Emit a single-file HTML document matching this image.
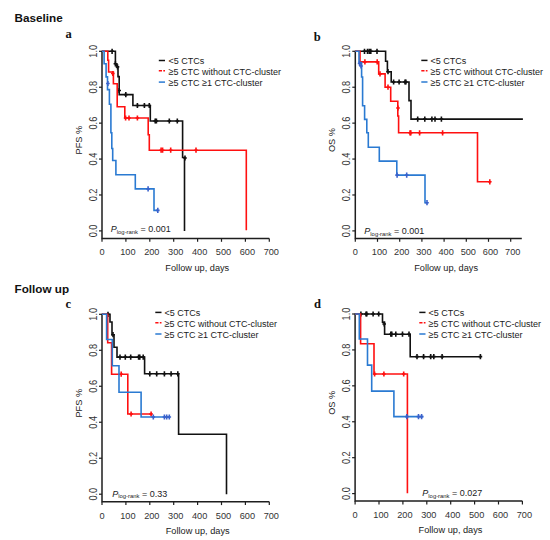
<!DOCTYPE html><html><head><meta charset="utf-8"><style>html,body{margin:0;padding:0;background:#fff;width:550px;height:540px;overflow:hidden}svg{display:block}text{font-family:"Liberation Sans",sans-serif}text.r{stroke:#222;stroke-width:0;paint-order:stroke}</style></head><body>
<svg width="550" height="540" viewBox="0 0 550 540">
<rect width="550" height="540" fill="#fff"/>
<text x="14.6" y="21.5" font-size="11.7" font-weight="bold" fill="#111">Baseline</text>
<text x="14.6" y="292.6" font-size="11.7" font-weight="bold" fill="#111">Follow up</text>
<text x="65.5" y="37.9" font-size="12.5" font-weight="bold" fill="#111" style="font-family:'Liberation Serif',serif">a</text>
<text x="313.8" y="40.7" font-size="12.5" font-weight="bold" fill="#111" style="font-family:'Liberation Serif',serif">b</text>
<text x="65.6" y="308.0" font-size="12.5" font-weight="bold" fill="#111" style="font-family:'Liberation Serif',serif">c</text>
<text x="314.0" y="307.9" font-size="12.5" font-weight="bold" fill="#111" style="font-family:'Liberation Serif',serif">d</text>
<path d="M102,50.7 V238.4 H269.3" fill="none" stroke="#1e1e1e" stroke-width="1.5"/>
<line x1="99" y1="230.9" x2="102" y2="230.9" stroke="#1e1e1e" stroke-width="1.2"/>
<text transform="translate(97.1,230.9) rotate(-90) scale(1,1.15)" text-anchor="middle" font-size="9.2" fill="#333" class="r">0.0</text>
<line x1="99" y1="194.98" x2="102" y2="194.98" stroke="#1e1e1e" stroke-width="1.2"/>
<text transform="translate(97.1,194.98) rotate(-90) scale(1,1.15)" text-anchor="middle" font-size="9.2" fill="#333" class="r">0.2</text>
<line x1="99" y1="159.06" x2="102" y2="159.06" stroke="#1e1e1e" stroke-width="1.2"/>
<text transform="translate(97.1,159.06) rotate(-90) scale(1,1.15)" text-anchor="middle" font-size="9.2" fill="#333" class="r">0.4</text>
<line x1="99" y1="123.14" x2="102" y2="123.14" stroke="#1e1e1e" stroke-width="1.2"/>
<text transform="translate(97.1,123.14) rotate(-90) scale(1,1.15)" text-anchor="middle" font-size="9.2" fill="#333" class="r">0.6</text>
<line x1="99" y1="87.22" x2="102" y2="87.22" stroke="#1e1e1e" stroke-width="1.2"/>
<text transform="translate(97.1,87.22) rotate(-90) scale(1,1.15)" text-anchor="middle" font-size="9.2" fill="#333" class="r">0.8</text>
<line x1="99" y1="51.3" x2="102" y2="51.3" stroke="#1e1e1e" stroke-width="1.2"/>
<text transform="translate(97.1,51.3) rotate(-90) scale(1,1.15)" text-anchor="middle" font-size="9.2" fill="#333" class="r">1.0</text>
<line x1="102" y1="238.4" x2="102" y2="241.8" stroke="#1e1e1e" stroke-width="1.2"/>
<text x="102" y="255.2" text-anchor="middle" font-size="9.2" fill="#333" transform-origin="102 255.2" transform="scale(1,1.0)" class="r">0</text>
<line x1="125.9" y1="238.4" x2="125.9" y2="241.8" stroke="#1e1e1e" stroke-width="1.2"/>
<text x="127.9" y="255.2" text-anchor="middle" font-size="9.2" fill="#333" transform-origin="127.9 255.2" transform="scale(1,1.0)" class="r">100</text>
<line x1="149.8" y1="238.4" x2="149.8" y2="241.8" stroke="#1e1e1e" stroke-width="1.2"/>
<text x="151.8" y="255.2" text-anchor="middle" font-size="9.2" fill="#333" transform-origin="151.8 255.2" transform="scale(1,1.0)" class="r">200</text>
<line x1="173.7" y1="238.4" x2="173.7" y2="241.8" stroke="#1e1e1e" stroke-width="1.2"/>
<text x="175.7" y="255.2" text-anchor="middle" font-size="9.2" fill="#333" transform-origin="175.7 255.2" transform="scale(1,1.0)" class="r">300</text>
<line x1="197.6" y1="238.4" x2="197.6" y2="241.8" stroke="#1e1e1e" stroke-width="1.2"/>
<text x="199.6" y="255.2" text-anchor="middle" font-size="9.2" fill="#333" transform-origin="199.6 255.2" transform="scale(1,1.0)" class="r">400</text>
<line x1="221.5" y1="238.4" x2="221.5" y2="241.8" stroke="#1e1e1e" stroke-width="1.2"/>
<text x="223.5" y="255.2" text-anchor="middle" font-size="9.2" fill="#333" transform-origin="223.5 255.2" transform="scale(1,1.0)" class="r">500</text>
<line x1="245.4" y1="238.4" x2="245.4" y2="241.8" stroke="#1e1e1e" stroke-width="1.2"/>
<text x="247.4" y="255.2" text-anchor="middle" font-size="9.2" fill="#333" transform-origin="247.4 255.2" transform="scale(1,1.0)" class="r">600</text>
<line x1="269.3" y1="238.4" x2="269.3" y2="241.8" stroke="#1e1e1e" stroke-width="1.2"/>
<text x="271.3" y="255.2" text-anchor="middle" font-size="9.2" fill="#333" transform-origin="271.3 255.2" transform="scale(1,1.0)" class="r">700</text>
<text x="197.3" y="270.6" transform-origin="197.3 270.6" transform="scale(1,1.05)" text-anchor="middle" font-size="9.2" fill="#1a1a1a" class="r">Follow up, days</text>
<text transform="translate(81.8,140.1) rotate(-90) scale(1,0.95)" text-anchor="middle" font-size="9.2" fill="#222" class="r">PFS %</text>
<path d="M102,51.3 H115.4 V63.8 H116.8 V66.9 H118 V76.6 H119.2 V94.6 H132.9 V105.5 H150.3 V121 H182.6 V157.5 H184.5 V231" fill="none" stroke="#111111" stroke-width="1.6"/>
<path d="M112.1,48.7 V53.9 M110.3,51.3 H113.9" stroke="#111111" stroke-width="1.6" fill="none"/>
<path d="M115.4,61.2 V66.4 M113.6,63.8 H117.2" stroke="#111111" stroke-width="1.6" fill="none"/>
<path d="M117.5,64.3 V69.5 M115.7,66.9 H119.3" stroke="#111111" stroke-width="1.6" fill="none"/>
<path d="M119.2,87.9 V93.1 M117.4,90.5 H121" stroke="#111111" stroke-width="1.6" fill="none"/>
<path d="M125.8,92 V97.2 M124,94.6 H127.6" stroke="#111111" stroke-width="1.6" fill="none"/>
<path d="M137.4,102.9 V108.1 M135.6,105.5 H139.2" stroke="#111111" stroke-width="1.6" fill="none"/>
<path d="M144.4,102.9 V108.1 M142.6,105.5 H146.2" stroke="#111111" stroke-width="1.6" fill="none"/>
<path d="M149.3,102.9 V108.1 M147.5,105.5 H151.1" stroke="#111111" stroke-width="1.6" fill="none"/>
<path d="M155.2,118.4 V123.6 M153.4,121 H157" stroke="#111111" stroke-width="1.6" fill="none"/>
<path d="M156.4,118.4 V123.6 M154.6,121 H158.2" stroke="#111111" stroke-width="1.6" fill="none"/>
<path d="M169.3,118.4 V123.6 M167.5,121 H171.1" stroke="#111111" stroke-width="1.6" fill="none"/>
<path d="M177.3,118.4 V123.6 M175.5,121 H179.1" stroke="#111111" stroke-width="1.6" fill="none"/>
<path d="M185,155.4 V160.6 M183.2,158 H186.8" stroke="#111111" stroke-width="1.6" fill="none"/>
<path d="M102,51.3 H107.8 V60.3 H108.6 V72 H113.4 V83.8 H117.2 V106.7 H124.8 V118 H148.2 V134.8 H149.3 V150.2 H246.3 V230.2" fill="none" stroke="#ff1010" stroke-width="1.6"/>
<path d="M112.8,70.9 V76.1 M111,73.5 H114.6" stroke="#ff1010" stroke-width="1.6" fill="none"/>
<path d="M125.6,115.4 V120.6 M123.8,118 H127.4" stroke="#ff1010" stroke-width="1.6" fill="none"/>
<path d="M129,115.4 V120.6 M127.2,118 H130.8" stroke="#ff1010" stroke-width="1.6" fill="none"/>
<path d="M137.4,115.4 V120.6 M135.6,118 H139.2" stroke="#ff1010" stroke-width="1.6" fill="none"/>
<path d="M161.1,147.6 V152.8 M159.3,150.2 H162.9" stroke="#ff1010" stroke-width="1.6" fill="none"/>
<path d="M162.6,147.6 V152.8 M160.8,150.2 H164.4" stroke="#ff1010" stroke-width="1.6" fill="none"/>
<path d="M170.7,147.6 V152.8 M168.9,150.2 H172.5" stroke="#ff1010" stroke-width="1.6" fill="none"/>
<path d="M196,147.6 V152.8 M194.2,150.2 H197.8" stroke="#ff1010" stroke-width="1.6" fill="none"/>
<path d="M102,51.3 H104.1 V63.8 H106.1 V76.9 H107.5 V89.6 H109.4 V104.2 H110.9 V132.8 H111.8 V148.5 H112.7 V160.5 H115.9 V174.8 H135.3 V188.9 H154 V210.4 H158" fill="none" stroke="#2a7ad2" stroke-width="1.6"/>
<path d="M107.9,80.9 V86.1 M106.1,83.5 H109.7" stroke="#3a62cc" stroke-width="1.6" fill="none"/>
<path d="M148.1,186.3 V191.5 M146.3,188.9 H149.9" stroke="#3a62cc" stroke-width="1.6" fill="none"/>
<path d="M157.8,207.8 V213 M156,210.4 H159.6" stroke="#3a62cc" stroke-width="1.6" fill="none"/>
<line x1="158.8" y1="60.5" x2="165" y2="60.5" stroke="#111111" stroke-width="1.5"/>
<text x="168.5" y="64" transform-origin="168.5 64" transform="scale(1,1.1)" font-size="9.02" fill="#1a1a1a" class="r">&lt;5 CTCs</text>
<line x1="158.8" y1="70.85" x2="165" y2="70.85" stroke="#ff1010" stroke-width="1.5" stroke-dasharray="3.2 1.3 1.7 20"/>
<text x="168.5" y="75.25" transform-origin="168.5 75.25" transform="scale(1,1.1)" font-size="9.02" fill="#1a1a1a" class="r">≥5 CTC without CTC-cluster</text>
<line x1="158.8" y1="82.1" x2="165" y2="82.1" stroke="#2a7ad2" stroke-width="1.5"/>
<text x="168.5" y="86.5" transform-origin="168.5 86.5" transform="scale(1,1.1)" font-size="9.02" fill="#1a1a1a" class="r">≥5 CTC ≥1 CTC-cluster</text>
<text x="110.8" y="232" transform-origin="110.8 232" transform="scale(1,1.05)" font-size="9.0" fill="#1a1a1a" class="r"><tspan font-style="italic">P</tspan><tspan font-size="5.9" dy="1.6">log-rank</tspan><tspan dy="-1.6"> = 0.001</tspan></text>
<path d="M355.3,50.7 V238.4 H521.8" fill="none" stroke="#1e1e1e" stroke-width="1.5"/>
<line x1="352.3" y1="230.9" x2="355.3" y2="230.9" stroke="#1e1e1e" stroke-width="1.2"/>
<text transform="translate(350.4,230.9) rotate(-90) scale(1,1.15)" text-anchor="middle" font-size="9.2" fill="#333" class="r">0.0</text>
<line x1="352.3" y1="194.98" x2="355.3" y2="194.98" stroke="#1e1e1e" stroke-width="1.2"/>
<text transform="translate(350.4,194.98) rotate(-90) scale(1,1.15)" text-anchor="middle" font-size="9.2" fill="#333" class="r">0.2</text>
<line x1="352.3" y1="159.06" x2="355.3" y2="159.06" stroke="#1e1e1e" stroke-width="1.2"/>
<text transform="translate(350.4,159.06) rotate(-90) scale(1,1.15)" text-anchor="middle" font-size="9.2" fill="#333" class="r">0.4</text>
<line x1="352.3" y1="123.14" x2="355.3" y2="123.14" stroke="#1e1e1e" stroke-width="1.2"/>
<text transform="translate(350.4,123.14) rotate(-90) scale(1,1.15)" text-anchor="middle" font-size="9.2" fill="#333" class="r">0.6</text>
<line x1="352.3" y1="87.22" x2="355.3" y2="87.22" stroke="#1e1e1e" stroke-width="1.2"/>
<text transform="translate(350.4,87.22) rotate(-90) scale(1,1.15)" text-anchor="middle" font-size="9.2" fill="#333" class="r">0.8</text>
<line x1="352.3" y1="51.3" x2="355.3" y2="51.3" stroke="#1e1e1e" stroke-width="1.2"/>
<text transform="translate(350.4,51.3) rotate(-90) scale(1,1.15)" text-anchor="middle" font-size="9.2" fill="#333" class="r">1.0</text>
<line x1="355.3" y1="238.4" x2="355.3" y2="241.8" stroke="#1e1e1e" stroke-width="1.2"/>
<text x="355.3" y="255.2" text-anchor="middle" font-size="9.2" fill="#333" transform-origin="355.3 255.2" transform="scale(1,1.0)" class="r">0</text>
<line x1="377.5" y1="238.4" x2="377.5" y2="241.8" stroke="#1e1e1e" stroke-width="1.2"/>
<text x="379.5" y="255.2" text-anchor="middle" font-size="9.2" fill="#333" transform-origin="379.5 255.2" transform="scale(1,1.0)" class="r">100</text>
<line x1="399.7" y1="238.4" x2="399.7" y2="241.8" stroke="#1e1e1e" stroke-width="1.2"/>
<text x="401.7" y="255.2" text-anchor="middle" font-size="9.2" fill="#333" transform-origin="401.7 255.2" transform="scale(1,1.0)" class="r">200</text>
<line x1="421.9" y1="238.4" x2="421.9" y2="241.8" stroke="#1e1e1e" stroke-width="1.2"/>
<text x="423.9" y="255.2" text-anchor="middle" font-size="9.2" fill="#333" transform-origin="423.9 255.2" transform="scale(1,1.0)" class="r">300</text>
<line x1="444.1" y1="238.4" x2="444.1" y2="241.8" stroke="#1e1e1e" stroke-width="1.2"/>
<text x="446.1" y="255.2" text-anchor="middle" font-size="9.2" fill="#333" transform-origin="446.1 255.2" transform="scale(1,1.0)" class="r">400</text>
<line x1="466.3" y1="238.4" x2="466.3" y2="241.8" stroke="#1e1e1e" stroke-width="1.2"/>
<text x="468.3" y="255.2" text-anchor="middle" font-size="9.2" fill="#333" transform-origin="468.3 255.2" transform="scale(1,1.0)" class="r">500</text>
<line x1="488.5" y1="238.4" x2="488.5" y2="241.8" stroke="#1e1e1e" stroke-width="1.2"/>
<text x="490.5" y="255.2" text-anchor="middle" font-size="9.2" fill="#333" transform-origin="490.5 255.2" transform="scale(1,1.0)" class="r">600</text>
<line x1="510.7" y1="238.4" x2="510.7" y2="241.8" stroke="#1e1e1e" stroke-width="1.2"/>
<text x="512.7" y="255.2" text-anchor="middle" font-size="9.2" fill="#333" transform-origin="512.7 255.2" transform="scale(1,1.0)" class="r">700</text>
<text x="446.1" y="270.6" transform-origin="446.1 270.6" transform="scale(1,1.05)" text-anchor="middle" font-size="9.2" fill="#1a1a1a" class="r">Follow up, days</text>
<text transform="translate(335.1,140.1) rotate(-90) scale(1,0.95)" text-anchor="middle" font-size="9.2" fill="#222" class="r">OS %</text>
<path d="M355.3,51.3 H385.6 V61.3 H387.4 V71.7 H391.2 V82 H409 V100.6 H411 V119.1 H522.9" fill="none" stroke="#111111" stroke-width="1.6"/>
<path d="M364.5,48.7 V53.9 M362.7,51.3 H366.3" stroke="#111111" stroke-width="1.6" fill="none"/>
<path d="M367.5,48.7 V53.9 M365.7,51.3 H369.3" stroke="#111111" stroke-width="1.6" fill="none"/>
<path d="M369.2,48.7 V53.9 M367.4,51.3 H371" stroke="#111111" stroke-width="1.6" fill="none"/>
<path d="M370.8,48.7 V53.9 M369,51.3 H372.6" stroke="#111111" stroke-width="1.6" fill="none"/>
<path d="M377,48.7 V53.9 M375.2,51.3 H378.8" stroke="#111111" stroke-width="1.6" fill="none"/>
<path d="M388,69.1 V74.3 M386.2,71.7 H389.8" stroke="#111111" stroke-width="1.6" fill="none"/>
<path d="M393.6,79.4 V84.6 M391.8,82 H395.4" stroke="#111111" stroke-width="1.6" fill="none"/>
<path d="M399.1,79.4 V84.6 M397.3,82 H400.9" stroke="#111111" stroke-width="1.6" fill="none"/>
<path d="M405,79.4 V84.6 M403.2,82 H406.8" stroke="#111111" stroke-width="1.6" fill="none"/>
<path d="M405.9,79.4 V84.6 M404.1,82 H407.7" stroke="#111111" stroke-width="1.6" fill="none"/>
<path d="M417.7,116.5 V121.7 M415.9,119.1 H419.5" stroke="#111111" stroke-width="1.6" fill="none"/>
<path d="M424.8,116.5 V121.7 M423,119.1 H426.6" stroke="#111111" stroke-width="1.6" fill="none"/>
<path d="M431.9,116.5 V121.7 M430.1,119.1 H433.7" stroke="#111111" stroke-width="1.6" fill="none"/>
<path d="M435,116.5 V121.7 M433.2,119.1 H436.8" stroke="#111111" stroke-width="1.6" fill="none"/>
<path d="M441.4,116.5 V121.7 M439.6,119.1 H443.2" stroke="#111111" stroke-width="1.6" fill="none"/>
<path d="M355.3,51.3 H360 V61.9 H378.7 V73.9 H385.1 V87.2 H390.7 V101.3 H397.8 V116 H398.6 V132.8 H477.5 V181.8 H491" fill="none" stroke="#ff1010" stroke-width="1.6"/>
<path d="M364.9,59.3 V64.5 M363.1,61.9 H366.7" stroke="#ff1010" stroke-width="1.6" fill="none"/>
<path d="M377.2,59.3 V64.5 M375.4,61.9 H379" stroke="#ff1010" stroke-width="1.6" fill="none"/>
<path d="M380,71.3 V76.5 M378.2,73.9 H381.8" stroke="#ff1010" stroke-width="1.6" fill="none"/>
<path d="M388,84.6 V89.8 M386.2,87.2 H389.8" stroke="#ff1010" stroke-width="1.6" fill="none"/>
<path d="M398,105.4 V110.6 M396.2,108 H399.8" stroke="#ff1010" stroke-width="1.6" fill="none"/>
<path d="M410,130.2 V135.4 M408.2,132.8 H411.8" stroke="#ff1010" stroke-width="1.6" fill="none"/>
<path d="M410.8,130.2 V135.4 M409,132.8 H412.6" stroke="#ff1010" stroke-width="1.6" fill="none"/>
<path d="M419.6,130.2 V135.4 M417.8,132.8 H421.4" stroke="#ff1010" stroke-width="1.6" fill="none"/>
<path d="M442.6,130.2 V135.4 M440.8,132.8 H444.4" stroke="#ff1010" stroke-width="1.6" fill="none"/>
<path d="M489.8,179.2 V184.4 M488,181.8 H491.6" stroke="#ff1010" stroke-width="1.6" fill="none"/>
<path d="M355.3,51.3 H359 V62.5 H361.6 V77 H362.6 V105.8 H364.6 V119.4 H366.8 V132.8 H368.3 V147.3 H379.3 V161.1 H396.8 V175.1 H425 V202.7 H427.3" fill="none" stroke="#2a7ad2" stroke-width="1.6"/>
<path d="M359.6,60.9 V66.1 M357.8,63.5 H361.4" stroke="#3a62cc" stroke-width="1.6" fill="none"/>
<path d="M361,63.4 V68.6 M359.2,66 H362.8" stroke="#3a62cc" stroke-width="1.6" fill="none"/>
<path d="M397.1,172.5 V177.7 M395.3,175.1 H398.9" stroke="#3a62cc" stroke-width="1.6" fill="none"/>
<path d="M406.7,172.5 V177.7 M404.9,175.1 H408.5" stroke="#3a62cc" stroke-width="1.6" fill="none"/>
<path d="M427,200.1 V205.3 M425.2,202.7 H428.8" stroke="#3a62cc" stroke-width="1.6" fill="none"/>
<line x1="421.3" y1="60.4" x2="427.5" y2="60.4" stroke="#111111" stroke-width="1.5"/>
<text x="430.5" y="63.9" transform-origin="430.5 63.9" transform="scale(1,1.1)" font-size="9.02" fill="#1a1a1a" class="r">&lt;5 CTCs</text>
<line x1="421.3" y1="70.75" x2="427.5" y2="70.75" stroke="#ff1010" stroke-width="1.5" stroke-dasharray="3.2 1.3 1.7 20"/>
<text x="430.5" y="75.15" transform-origin="430.5 75.15" transform="scale(1,1.1)" font-size="9.02" fill="#1a1a1a" class="r">≥5 CTC without CTC-cluster</text>
<line x1="421.3" y1="82" x2="427.5" y2="82" stroke="#2a7ad2" stroke-width="1.5"/>
<text x="430.5" y="86.4" transform-origin="430.5 86.4" transform="scale(1,1.1)" font-size="9.02" fill="#1a1a1a" class="r">≥5 CTC ≥1 CTC-cluster</text>
<text x="364.3" y="233.9" transform-origin="364.3 233.9" transform="scale(1,1.05)" font-size="9.0" fill="#1a1a1a" class="r"><tspan font-style="italic">P</tspan><tspan font-size="5.9" dy="1.6">log-rank</tspan><tspan dy="-1.6"> = 0.001</tspan></text>
<path d="M102,313.7 V501.7 H269.3" fill="none" stroke="#1e1e1e" stroke-width="1.5"/>
<line x1="99" y1="494.2" x2="102" y2="494.2" stroke="#1e1e1e" stroke-width="1.2"/>
<text transform="translate(97.1,494.2) rotate(-90) scale(1,1.15)" text-anchor="middle" font-size="9.2" fill="#333" class="r">0.0</text>
<line x1="99" y1="458.22" x2="102" y2="458.22" stroke="#1e1e1e" stroke-width="1.2"/>
<text transform="translate(97.1,458.22) rotate(-90) scale(1,1.15)" text-anchor="middle" font-size="9.2" fill="#333" class="r">0.2</text>
<line x1="99" y1="422.24" x2="102" y2="422.24" stroke="#1e1e1e" stroke-width="1.2"/>
<text transform="translate(97.1,422.24) rotate(-90) scale(1,1.15)" text-anchor="middle" font-size="9.2" fill="#333" class="r">0.4</text>
<line x1="99" y1="386.26" x2="102" y2="386.26" stroke="#1e1e1e" stroke-width="1.2"/>
<text transform="translate(97.1,386.26) rotate(-90) scale(1,1.15)" text-anchor="middle" font-size="9.2" fill="#333" class="r">0.6</text>
<line x1="99" y1="350.28" x2="102" y2="350.28" stroke="#1e1e1e" stroke-width="1.2"/>
<text transform="translate(97.1,350.28) rotate(-90) scale(1,1.15)" text-anchor="middle" font-size="9.2" fill="#333" class="r">0.8</text>
<line x1="99" y1="314.3" x2="102" y2="314.3" stroke="#1e1e1e" stroke-width="1.2"/>
<text transform="translate(97.1,314.3) rotate(-90) scale(1,1.15)" text-anchor="middle" font-size="9.2" fill="#333" class="r">1.0</text>
<line x1="102" y1="501.7" x2="102" y2="505.1" stroke="#1e1e1e" stroke-width="1.2"/>
<text x="102" y="518.5" text-anchor="middle" font-size="9.2" fill="#333" transform-origin="102 518.5" transform="scale(1,1.0)" class="r">0</text>
<line x1="125.9" y1="501.7" x2="125.9" y2="505.1" stroke="#1e1e1e" stroke-width="1.2"/>
<text x="127.9" y="518.5" text-anchor="middle" font-size="9.2" fill="#333" transform-origin="127.9 518.5" transform="scale(1,1.0)" class="r">100</text>
<line x1="149.8" y1="501.7" x2="149.8" y2="505.1" stroke="#1e1e1e" stroke-width="1.2"/>
<text x="151.8" y="518.5" text-anchor="middle" font-size="9.2" fill="#333" transform-origin="151.8 518.5" transform="scale(1,1.0)" class="r">200</text>
<line x1="173.7" y1="501.7" x2="173.7" y2="505.1" stroke="#1e1e1e" stroke-width="1.2"/>
<text x="175.7" y="518.5" text-anchor="middle" font-size="9.2" fill="#333" transform-origin="175.7 518.5" transform="scale(1,1.0)" class="r">300</text>
<line x1="197.6" y1="501.7" x2="197.6" y2="505.1" stroke="#1e1e1e" stroke-width="1.2"/>
<text x="199.6" y="518.5" text-anchor="middle" font-size="9.2" fill="#333" transform-origin="199.6 518.5" transform="scale(1,1.0)" class="r">400</text>
<line x1="221.5" y1="501.7" x2="221.5" y2="505.1" stroke="#1e1e1e" stroke-width="1.2"/>
<text x="223.5" y="518.5" text-anchor="middle" font-size="9.2" fill="#333" transform-origin="223.5 518.5" transform="scale(1,1.0)" class="r">500</text>
<line x1="245.4" y1="501.7" x2="245.4" y2="505.1" stroke="#1e1e1e" stroke-width="1.2"/>
<text x="247.4" y="518.5" text-anchor="middle" font-size="9.2" fill="#333" transform-origin="247.4 518.5" transform="scale(1,1.0)" class="r">600</text>
<line x1="269.3" y1="501.7" x2="269.3" y2="505.1" stroke="#1e1e1e" stroke-width="1.2"/>
<text x="271.3" y="518.5" text-anchor="middle" font-size="9.2" fill="#333" transform-origin="271.3 518.5" transform="scale(1,1.0)" class="r">700</text>
<text x="197.7" y="533.9" transform-origin="197.7 533.9" transform="scale(1,1.05)" text-anchor="middle" font-size="9.2" fill="#1a1a1a" class="r">Follow up, days</text>
<text transform="translate(81.8,403.25) rotate(-90) scale(1,0.95)" text-anchor="middle" font-size="9.2" fill="#222" class="r">PFS %</text>
<path d="M102,314.3 H110 V322 H112 V334.7 H114 V347.3 H117 V357.1 H144.6 V373.8 H178.6 V434.2 H226.5 V494.3" fill="none" stroke="#111111" stroke-width="1.6"/>
<path d="M108,311.7 V316.9 M106.2,314.3 H109.8" stroke="#111111" stroke-width="1.6" fill="none"/>
<path d="M113,332.1 V337.3 M111.2,334.7 H114.8" stroke="#111111" stroke-width="1.6" fill="none"/>
<path d="M120,354.5 V359.7 M118.2,357.1 H121.8" stroke="#111111" stroke-width="1.6" fill="none"/>
<path d="M125.3,354.5 V359.7 M123.5,357.1 H127.1" stroke="#111111" stroke-width="1.6" fill="none"/>
<path d="M130.7,354.5 V359.7 M128.9,357.1 H132.5" stroke="#111111" stroke-width="1.6" fill="none"/>
<path d="M138.6,354.5 V359.7 M136.8,357.1 H140.4" stroke="#111111" stroke-width="1.6" fill="none"/>
<path d="M139.8,354.5 V359.7 M138,357.1 H141.6" stroke="#111111" stroke-width="1.6" fill="none"/>
<path d="M143.2,354.5 V359.7 M141.4,357.1 H145" stroke="#111111" stroke-width="1.6" fill="none"/>
<path d="M149.8,371.2 V376.4 M148,373.8 H151.6" stroke="#111111" stroke-width="1.6" fill="none"/>
<path d="M156.7,371.2 V376.4 M154.9,373.8 H158.5" stroke="#111111" stroke-width="1.6" fill="none"/>
<path d="M164.4,371.2 V376.4 M162.6,373.8 H166.2" stroke="#111111" stroke-width="1.6" fill="none"/>
<path d="M171.1,371.2 V376.4 M169.3,373.8 H172.9" stroke="#111111" stroke-width="1.6" fill="none"/>
<path d="M177.8,371.2 V376.4 M176,373.8 H179.6" stroke="#111111" stroke-width="1.6" fill="none"/>
<path d="M102,314.3 H107.7 V342.8 H111.6 V374.2 H127.8 V414 H152.2" fill="none" stroke="#ff1010" stroke-width="1.6"/>
<path d="M121.2,371.6 V376.8 M119.4,374.2 H123" stroke="#ff1010" stroke-width="1.6" fill="none"/>
<path d="M131.1,411.4 V416.6 M129.3,414 H132.9" stroke="#ff1010" stroke-width="1.6" fill="none"/>
<path d="M151.1,411.4 V416.6 M149.3,414 H152.9" stroke="#ff1010" stroke-width="1.6" fill="none"/>
<path d="M102,314.3 H106.6 V339.5 H112.3 V365.8 H119 V392.2 H141.1 V417 H170" fill="none" stroke="#2a7ad2" stroke-width="1.6"/>
<path d="M153.3,414.4 V419.6 M151.5,417 H155.1" stroke="#3a62cc" stroke-width="1.6" fill="none"/>
<path d="M164.4,414.4 V419.6 M162.6,417 H166.2" stroke="#3a62cc" stroke-width="1.6" fill="none"/>
<path d="M166.7,414.4 V419.6 M164.9,417 H168.5" stroke="#3a62cc" stroke-width="1.6" fill="none"/>
<path d="M169.3,414.4 V419.6 M167.5,417 H171.1" stroke="#3a62cc" stroke-width="1.6" fill="none"/>
<line x1="155.3" y1="312.4" x2="161.5" y2="312.4" stroke="#111111" stroke-width="1.5"/>
<text x="164.5" y="315.9" transform-origin="164.5 315.9" transform="scale(1,1.1)" font-size="9.02" fill="#1a1a1a" class="r">&lt;5 CTCs</text>
<line x1="155.3" y1="322.75" x2="161.5" y2="322.75" stroke="#ff1010" stroke-width="1.5" stroke-dasharray="3.2 1.3 1.7 20"/>
<text x="164.5" y="327.15" transform-origin="164.5 327.15" transform="scale(1,1.1)" font-size="9.02" fill="#1a1a1a" class="r">≥5 CTC without CTC-cluster</text>
<line x1="155.3" y1="334" x2="161.5" y2="334" stroke="#2a7ad2" stroke-width="1.5"/>
<text x="164.5" y="338.4" transform-origin="164.5 338.4" transform="scale(1,1.1)" font-size="9.02" fill="#1a1a1a" class="r">≥5 CTC ≥1 CTC-cluster</text>
<text x="112.2" y="496.7" transform-origin="112.2 496.7" transform="scale(1,1.05)" font-size="9.0" fill="#1a1a1a" class="r"><tspan font-style="italic">P</tspan><tspan font-size="5.9" dy="1.6">log-rank</tspan><tspan dy="-1.6"> = 0.33</tspan></text>
<path d="M355.1,313.4 V501.1 H522.4" fill="none" stroke="#1e1e1e" stroke-width="1.5"/>
<line x1="352.1" y1="493.6" x2="355.1" y2="493.6" stroke="#1e1e1e" stroke-width="1.2"/>
<text transform="translate(350.2,493.6) rotate(-90) scale(1,1.15)" text-anchor="middle" font-size="9.2" fill="#333" class="r">0.0</text>
<line x1="352.1" y1="457.68" x2="355.1" y2="457.68" stroke="#1e1e1e" stroke-width="1.2"/>
<text transform="translate(350.2,457.68) rotate(-90) scale(1,1.15)" text-anchor="middle" font-size="9.2" fill="#333" class="r">0.2</text>
<line x1="352.1" y1="421.76" x2="355.1" y2="421.76" stroke="#1e1e1e" stroke-width="1.2"/>
<text transform="translate(350.2,421.76) rotate(-90) scale(1,1.15)" text-anchor="middle" font-size="9.2" fill="#333" class="r">0.4</text>
<line x1="352.1" y1="385.84" x2="355.1" y2="385.84" stroke="#1e1e1e" stroke-width="1.2"/>
<text transform="translate(350.2,385.84) rotate(-90) scale(1,1.15)" text-anchor="middle" font-size="9.2" fill="#333" class="r">0.6</text>
<line x1="352.1" y1="349.92" x2="355.1" y2="349.92" stroke="#1e1e1e" stroke-width="1.2"/>
<text transform="translate(350.2,349.92) rotate(-90) scale(1,1.15)" text-anchor="middle" font-size="9.2" fill="#333" class="r">0.8</text>
<line x1="352.1" y1="314" x2="355.1" y2="314" stroke="#1e1e1e" stroke-width="1.2"/>
<text transform="translate(350.2,314) rotate(-90) scale(1,1.15)" text-anchor="middle" font-size="9.2" fill="#333" class="r">1.0</text>
<line x1="355.1" y1="501.1" x2="355.1" y2="504.5" stroke="#1e1e1e" stroke-width="1.2"/>
<text x="355.1" y="517.9" text-anchor="middle" font-size="9.2" fill="#333" transform-origin="355.1 517.9" transform="scale(1,1.0)" class="r">0</text>
<line x1="379" y1="501.1" x2="379" y2="504.5" stroke="#1e1e1e" stroke-width="1.2"/>
<text x="381" y="517.9" text-anchor="middle" font-size="9.2" fill="#333" transform-origin="381 517.9" transform="scale(1,1.0)" class="r">100</text>
<line x1="402.9" y1="501.1" x2="402.9" y2="504.5" stroke="#1e1e1e" stroke-width="1.2"/>
<text x="404.9" y="517.9" text-anchor="middle" font-size="9.2" fill="#333" transform-origin="404.9 517.9" transform="scale(1,1.0)" class="r">200</text>
<line x1="426.8" y1="501.1" x2="426.8" y2="504.5" stroke="#1e1e1e" stroke-width="1.2"/>
<text x="428.8" y="517.9" text-anchor="middle" font-size="9.2" fill="#333" transform-origin="428.8 517.9" transform="scale(1,1.0)" class="r">300</text>
<line x1="450.7" y1="501.1" x2="450.7" y2="504.5" stroke="#1e1e1e" stroke-width="1.2"/>
<text x="452.7" y="517.9" text-anchor="middle" font-size="9.2" fill="#333" transform-origin="452.7 517.9" transform="scale(1,1.0)" class="r">400</text>
<line x1="474.6" y1="501.1" x2="474.6" y2="504.5" stroke="#1e1e1e" stroke-width="1.2"/>
<text x="476.6" y="517.9" text-anchor="middle" font-size="9.2" fill="#333" transform-origin="476.6 517.9" transform="scale(1,1.0)" class="r">500</text>
<line x1="498.5" y1="501.1" x2="498.5" y2="504.5" stroke="#1e1e1e" stroke-width="1.2"/>
<text x="500.5" y="517.9" text-anchor="middle" font-size="9.2" fill="#333" transform-origin="500.5 517.9" transform="scale(1,1.0)" class="r">600</text>
<line x1="522.4" y1="501.1" x2="522.4" y2="504.5" stroke="#1e1e1e" stroke-width="1.2"/>
<text x="524.4" y="517.9" text-anchor="middle" font-size="9.2" fill="#333" transform-origin="524.4 517.9" transform="scale(1,1.0)" class="r">700</text>
<text x="450.5" y="533.3" transform-origin="450.5 533.3" transform="scale(1,1.05)" text-anchor="middle" font-size="9.2" fill="#1a1a1a" class="r">Follow up, days</text>
<text transform="translate(334.9,402.8) rotate(-90) scale(1,0.95)" text-anchor="middle" font-size="9.2" fill="#222" class="r">OS %</text>
<path d="M355.1,314 H382.5 V322.2 H384.6 V334.2 H410.2 V356.7 H480.9" fill="none" stroke="#111111" stroke-width="1.6"/>
<path d="M360.9,311.4 V316.6 M359.1,314 H362.7" stroke="#111111" stroke-width="1.6" fill="none"/>
<path d="M366,311.4 V316.6 M364.2,314 H367.8" stroke="#111111" stroke-width="1.6" fill="none"/>
<path d="M366.8,311.4 V316.6 M365,314 H368.6" stroke="#111111" stroke-width="1.6" fill="none"/>
<path d="M373.1,311.4 V316.6 M371.3,314 H374.9" stroke="#111111" stroke-width="1.6" fill="none"/>
<path d="M378.7,311.4 V316.6 M376.9,314 H380.5" stroke="#111111" stroke-width="1.6" fill="none"/>
<path d="M384.2,321.4 V326.6 M382.4,324 H386" stroke="#111111" stroke-width="1.6" fill="none"/>
<path d="M390.8,331.6 V336.8 M389,334.2 H392.6" stroke="#111111" stroke-width="1.6" fill="none"/>
<path d="M391.8,331.6 V336.8 M390,334.2 H393.6" stroke="#111111" stroke-width="1.6" fill="none"/>
<path d="M395.8,331.6 V336.8 M394,334.2 H397.6" stroke="#111111" stroke-width="1.6" fill="none"/>
<path d="M402.5,331.6 V336.8 M400.7,334.2 H404.3" stroke="#111111" stroke-width="1.6" fill="none"/>
<path d="M409,331.6 V336.8 M407.2,334.2 H410.8" stroke="#111111" stroke-width="1.6" fill="none"/>
<path d="M417,354 V359.2 M415.2,356.6 H418.8" stroke="#111111" stroke-width="1.6" fill="none"/>
<path d="M423.6,354 V359.2 M421.8,356.6 H425.4" stroke="#111111" stroke-width="1.6" fill="none"/>
<path d="M430.7,354 V359.2 M428.9,356.6 H432.5" stroke="#111111" stroke-width="1.6" fill="none"/>
<path d="M433.8,354 V359.2 M432,356.6 H435.6" stroke="#111111" stroke-width="1.6" fill="none"/>
<path d="M442.1,354 V359.2 M440.3,356.6 H443.9" stroke="#111111" stroke-width="1.6" fill="none"/>
<path d="M480.4,354 V359.2 M478.6,356.6 H482.2" stroke="#111111" stroke-width="1.6" fill="none"/>
<path d="M355.1,314 H360.6 V343.8 H374 V374 H407.4 V493.2" fill="none" stroke="#ff1010" stroke-width="1.6"/>
<path d="M374.6,371.4 V376.6 M372.8,374 H376.4" stroke="#ff1010" stroke-width="1.6" fill="none"/>
<path d="M383.9,371.4 V376.6 M382.1,374 H385.7" stroke="#ff1010" stroke-width="1.6" fill="none"/>
<path d="M403.7,371.4 V376.6 M401.9,374 H405.5" stroke="#ff1010" stroke-width="1.6" fill="none"/>
<path d="M355.1,314 H359.3 V339 H367.5 V365.1 H371.7 V391.1 H393.9 V416.6 H423.3" fill="none" stroke="#2a7ad2" stroke-width="1.6"/>
<path d="M406.8,414 V419.2 M405,416.6 H408.6" stroke="#3a62cc" stroke-width="1.6" fill="none"/>
<path d="M418.5,414 V419.2 M416.7,416.6 H420.3" stroke="#3a62cc" stroke-width="1.6" fill="none"/>
<path d="M421.6,414 V419.2 M419.8,416.6 H423.4" stroke="#3a62cc" stroke-width="1.6" fill="none"/>
<line x1="419.3" y1="312.4" x2="425.5" y2="312.4" stroke="#111111" stroke-width="1.5"/>
<text x="428.5" y="315.9" transform-origin="428.5 315.9" transform="scale(1,1.1)" font-size="9.02" fill="#1a1a1a" class="r">&lt;5 CTCs</text>
<line x1="419.3" y1="322.75" x2="425.5" y2="322.75" stroke="#ff1010" stroke-width="1.5" stroke-dasharray="3.2 1.3 1.7 20"/>
<text x="428.5" y="327.15" transform-origin="428.5 327.15" transform="scale(1,1.1)" font-size="9.02" fill="#1a1a1a" class="r">≥5 CTC without CTC-cluster</text>
<line x1="419.3" y1="334" x2="425.5" y2="334" stroke="#2a7ad2" stroke-width="1.5"/>
<text x="428.5" y="338.4" transform-origin="428.5 338.4" transform="scale(1,1.1)" font-size="9.02" fill="#1a1a1a" class="r">≥5 CTC ≥1 CTC-cluster</text>
<text x="422.3" y="496.1" transform-origin="422.3 496.1" transform="scale(1,1.05)" font-size="9.0" fill="#1a1a1a" class="r"><tspan font-style="italic">P</tspan><tspan font-size="5.9" dy="1.6">log-rank</tspan><tspan dy="-1.6"> = 0.027</tspan></text>
</svg></body></html>
